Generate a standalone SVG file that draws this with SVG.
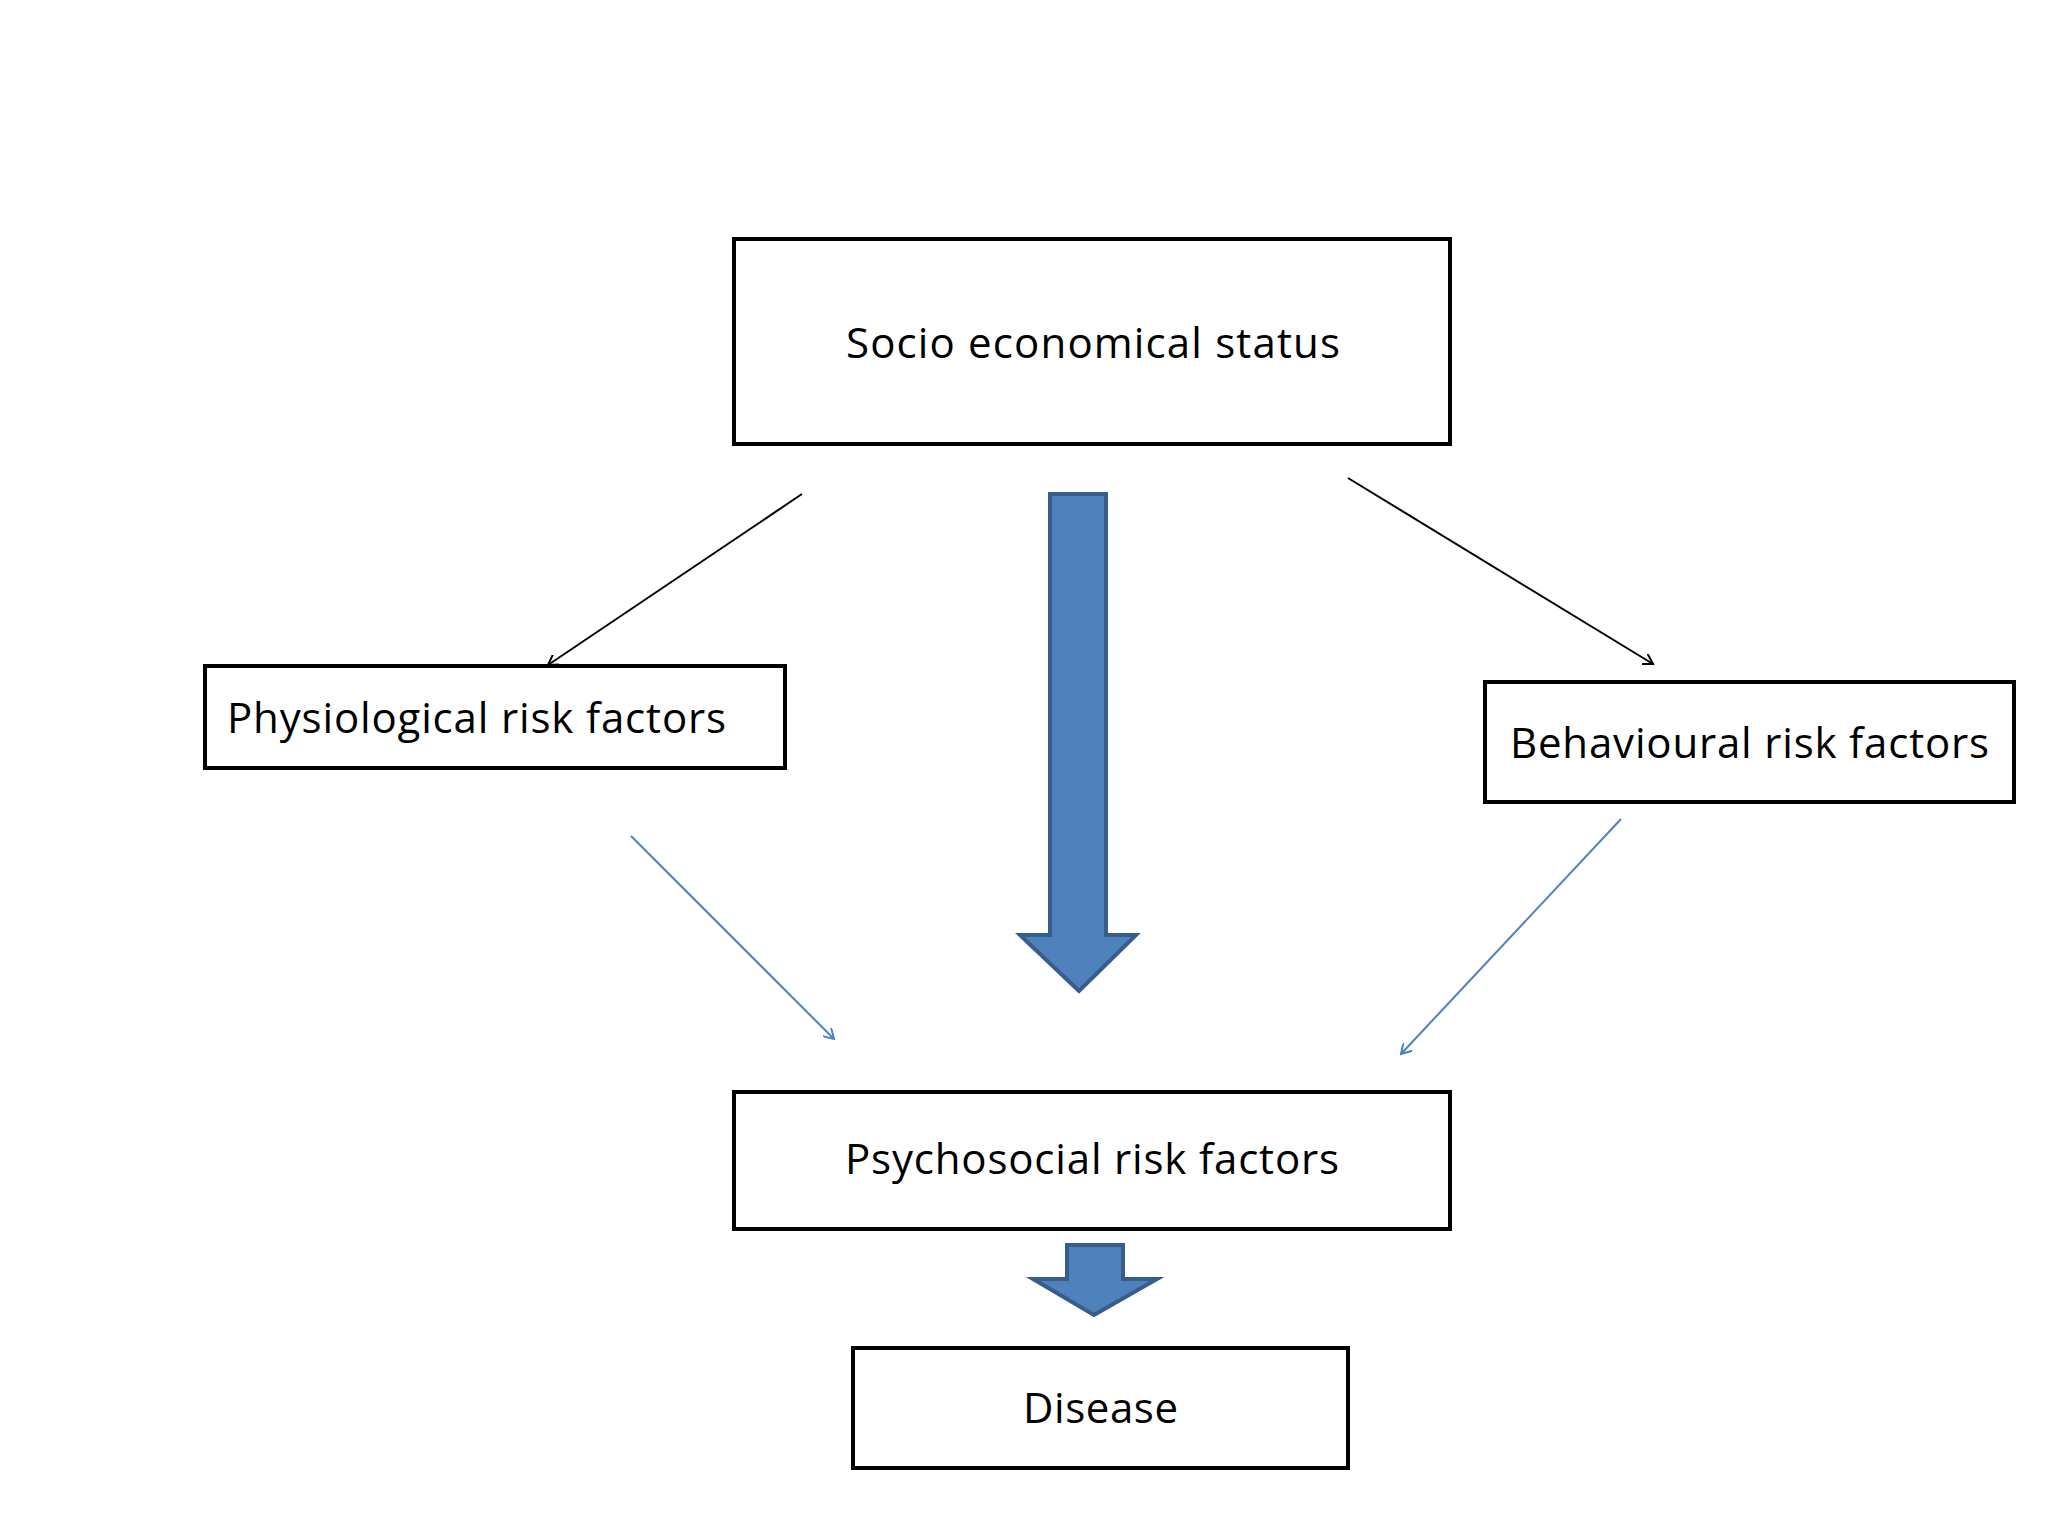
<svg xmlns="http://www.w3.org/2000/svg" width="2048" height="1536" viewBox="0 0 2048 1536">
<style>
.box{fill:#fff;stroke:#000;stroke-width:4}
.t{font-family:"Open Sans","Noto Sans",sans-serif;font-size:42px;fill:#000}
.blk{stroke:#000;stroke-width:2;fill:none}
.blu{stroke:#4F81BD;stroke-width:2;fill:none}
.big{fill:#4F81BD;stroke:#385D8A;stroke-width:4}
</style>
<defs>
<marker id="ab" markerWidth="12" markerHeight="12" refX="10" refY="6" orient="auto" markerUnits="userSpaceOnUse" viewBox="0 0 12 12"><path d="M0,0 L10,6 L0,12" fill="none" stroke="#000" stroke-width="2"/></marker>
<marker id="au" markerWidth="12" markerHeight="12" refX="10" refY="6" orient="auto" markerUnits="userSpaceOnUse" viewBox="0 0 12 12"><path d="M0,0 L10,6 L0,12" fill="none" stroke="#4F81BD" stroke-width="2"/></marker>
</defs>
<rect width="2048" height="1536" fill="#fff"/>
<g id="connectors">
<line class="blk" x1="802" y1="494" x2="548" y2="665" marker-end="url(#ab)"/>
<line class="blk" x1="1348" y1="478" x2="1653" y2="664" marker-end="url(#ab)"/>
<line class="blu" x1="631" y1="836" x2="834" y2="1039" marker-end="url(#au)"/>
<line class="blu" x1="1621" y1="819" x2="1401" y2="1054" marker-end="url(#au)"/>
<path class="big" d="M1050,494 H1106 V935 H1136 L1079,991 L1020,935 H1050 Z"/>
<path class="big" d="M1067,1245 H1123 V1279 H1157 L1094,1315 L1033,1279 H1067 Z"/>
</g>
<g id="socio"><rect class="box" x="734" y="239" width="716" height="205"/><text class="t" x="846" y="358" textLength="494">Socio economical status</text></g>
<g id="physio"><rect class="box" x="205" y="666" width="580" height="102"/><text class="t" x="227" y="733" textLength="499">Physiological risk factors</text></g>
<g id="behav"><rect class="box" x="1485" y="682" width="529" height="120"/><text class="t" x="1510" y="758" textLength="479">Behavioural risk factors</text></g>
<g id="psycho"><rect class="box" x="734" y="1092" width="716" height="137"/><text class="t" x="845" y="1174" textLength="494">Psychosocial risk factors</text></g>
<g id="disease"><rect class="box" x="853" y="1348" width="495" height="120"/><text class="t" x="1023" y="1423" textLength="155">Disease</text></g>
</svg>
